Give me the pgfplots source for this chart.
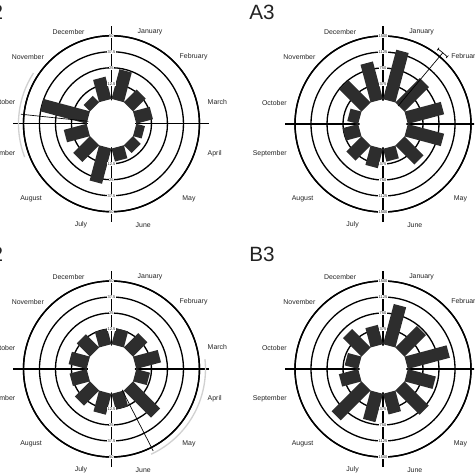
\documentclass[border=0pt]{standalone}
\usepackage{fontspec}
\setmainfont{Liberation Sans}
\usepackage{pgfplots}
\usepackage{pgfplotstable}
\usepgfplotslibrary{polar}
\pgfplotsset{compat=1.18}

\definecolor{barcol}{RGB}{45,45,45}
\definecolor{txtcol}{RGB}{35,35,35}

% a = month angle (deg, ccw from east), v = bar value;
% each bar is a base row (0), its value, and a nan row to break the line
\pgfplotstableread{
a   v
75  0
75  24
75  nan
45  0
45  14
45  nan
15  0
15  13.5
15  nan
345 0
345 7
345 nan
315 0
315 8.5
315 nan
285 0
285 10.5
285 nan
255 0
255 28.5
255 nan
225 0
225 18.5
225 nan
195 0
195 18.5
195 nan
165 0
165 37.5
165 nan
135 0
135 7
135 nan
105 0
105 18
}\dataAtwo

\pgfplotstableread{
a   v
75  0
75  1200
75  nan
45  0
45  810
45  nan
15  0
15  880
15  nan
345 0
345 880
345 nan
315 0
315 630
315 nan
285 0
285 310
285 nan
255 0
255 470
255 nan
225 0
225 500
225 nan
195 0
195 375
195 nan
165 0
165 265
165 nan
135 0
135 735
135 nan
105 0
105 915
}\dataAthree

\pgfplotstableread{
a   v
75  0
75  13
75  nan
45  0
45  15.9
45  nan
15  0
15  20
15  nan
345 0
345 11.1
345 nan
315 0
315 30
315 nan
285 0
285 12.8
285 nan
255 0
255 16.9
255 nan
225 0
225 16.6
225 nan
195 0
195 13.8
195 nan
165 0
165 14.6
165 nan
135 0
135 14.6
135 nan
105 0
105 12.6
}\dataBtwo

\pgfplotstableread{
a   v
75  0
75  975
75  nan
45  0
45  713
45  nan
15  0
15  1020
15  nan
345 0
345 680
345 nan
315 0
315 804
315 nan
285 0
285 501
285 nan
255 0
255 688
255 nan
225 0
225 990
225 nan
195 0
195 469
195 nan
165 0
165 328
165 nan
135 0
135 614
135 nan
105 0
105 469
}\dataBthree

\pgfplotsset{rose/.style={
    scale only axis, width=132pt, height=132pt, anchor=center,
    xmin=0, xmax=360, ymin=0, clip=false,
    xtick=\empty, yticklabels={}, ymajorgrids,
    major tick length=0pt, unbounded coords=jump,
    axis line style={line width=1.1pt},
    major grid style={black, line width=1pt},
  },
  bars/.style={no marks, draw=barcol, line width=9.6pt, line cap=butt}
}

\newcommand\mfont{\fontsize{5.2}{6}\selectfont}
\newcommand\rfont{\fontsize{3}{3.4}\selectfont}

% cross lines behind a panel
\newcommand\cross{%
  \draw[line width=1.1pt] (-73.5pt,0) -- (73.5pt,0);
  \draw[line width=1.1pt] (0,-73.5pt) -- (0,73.5pt);}

% hole, ring labels, months
\newcommand\decor[4]{%
  \fill[white] (0,0) circle[radius=17.5pt];
  \foreach \r/\t in {30pt/#1,42pt/#2,54pt/#3,66pt/#4}{
    \node[fill=white, inner sep=0.3pt, font=\rfont, text=txtcol] at (0,\r) {\t};
    \node[fill=white, inner sep=0.3pt, font=\rfont, text=txtcol] at (0,-\r) {\t};
  }
  \foreach \x/\y/\an/\t in {
      19.5pt/69pt/west/January, 51pt/50.25pt/west/February,
      72pt/16.5pt/west/March, 72pt/-22.5pt/west/April,
      53pt/-56.25pt/west/May, 18pt/-75.75pt/west/June,
      -20pt/69pt/east/December, -50.5pt/50.25pt/east/November,
      -72pt/16pt/east/October, -72pt/-22.5pt/east/September,
      -52pt/-56.25pt/east/August, -18pt/-75.75pt/east/July}{
    \node[anchor=\an, font=\mfont, text=txtcol, inner sep=0pt] at (\x,\y) {\t};
  }}

\newcommand\plabel[2]{%
  \node[anchor=base west, inner sep=0pt, text=txtcol,
        font=\fontsize{15.5}{18}\selectfont] at (-100.5pt,#2) {#1};}

\begin{document}
\begin{tikzpicture}
\useasboundingbox (0,0) rectangle (355.5pt,-355.5pt);
\clip (0,0) rectangle (355.5pt,-355.5pt);

% ---------- A2
\begin{scope}[shift={(83.6pt,-92.8pt)}]
\cross
\begin{polaraxis}[rose, at={(0,0)}, ymax=68.75,
    ytick={31.25,43.75,56.25,68.75}]
\addplot[bars] table[x=a, y expr=\thisrow{v}+18.75] {\dataAtwo};
\end{polaraxis}
\draw[line width=0.5pt] (0,0) -- (174:68.25pt);
\draw[black!18, line width=1pt] (147:69.75pt) arc[start angle=147, end angle=201, radius=69.75pt];
\decor{12.5}{25}{37.5}{50}
\plabel{A2}{78.5pt}
\end{scope}

% ---------- A3
\begin{scope}[shift={(287.25pt,-93pt)}]
\cross
\begin{polaraxis}[rose, at={(0,0)}, ymax=2062.5,
    ytick={937.5,1312.5,1687.5,2062.5}]
\addplot[bars] table[x=a, y expr=\thisrow{v}+562.5] {\dataAthree};
\end{polaraxis}
\draw[line width=0.5pt] (0,0) -- (50:69.75pt);
\draw[line width=0.5pt] (46.3:69.75pt) arc[start angle=46.3, end angle=53.7, radius=69.75pt];
\draw[line width=0.5pt] (46.3:68.5pt) -- (46.3:71pt) (53.7:68.5pt) -- (53.7:71pt);
\decor{375}{750}{1125}{1500}
\plabel{A3}{78.5pt}
\end{scope}

% ---------- B2
\begin{scope}[shift={(83.6pt,-276.75pt)}]
\cross
\begin{polaraxis}[rose, at={(0,0)}, ymax=68.75,
    ytick={31.25,43.75,56.25,68.75}]
\addplot[bars] table[x=a, y expr=\thisrow{v}+18.75] {\dataBtwo};
\end{polaraxis}
\draw[line width=0.5pt] (0,0) -- (-63:69pt);
\draw[black!18, line width=1pt] (6:70.5pt) arc[start angle=6, end angle=-65, radius=70.5pt];
\decor{12.5}{25}{37.5}{50}
\plabel{B2}{81pt}
\end{scope}

% ---------- B3
\begin{scope}[shift={(287.25pt,-276.75pt)}]
\cross
\begin{polaraxis}[rose, at={(0,0)}, ymax=2062.5,
    ytick={937.5,1312.5,1687.5,2062.5}]
\addplot[bars] table[x=a, y expr=\thisrow{v}+562.5] {\dataBthree};
\end{polaraxis}
\decor{375}{750}{1125}{1500}
\plabel{B3}{81pt}
\end{scope}
\end{tikzpicture}
\end{document}
